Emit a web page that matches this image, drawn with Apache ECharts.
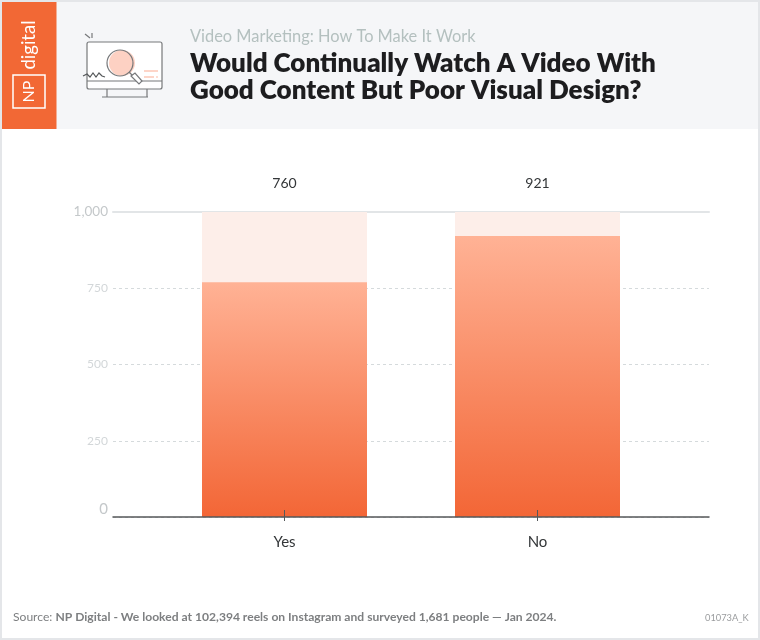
<!DOCTYPE html>
<html><head><meta charset="utf-8">
<style>html,body{margin:0;padding:0;background:#fff}#c{width:760px;height:640px}</style>
<script src="https://cdn.jsdelivr.net/npm/echarts@6/dist/echarts.min.js"></script>
</head><body><div id="c"></div>
<script>
const categories = ['Yes', 'No'];
const barValues = [770, 921];
const printedValues = ['760', '921'];
const yTicks = [0, 250, 500, 750, 1000];
const subtitle = 'Video Marketing: How To Make It Work';
const titleLines = ['Would Continually Watch A Video With', 'Good Content But Poor Visual Design?'];
const sourceLead = 'Source: ';
const sourceBold = 'NP Digital - We looked at 102,394 reels on Instagram and surveyed 1,681 people — Jan 2024.';
const codeText = '01073A_K';

const FF = 'Lato';
const chart = echarts.init(document.getElementById('c'), null, {renderer: 'canvas'});
const ink = {stroke: '#77797b', lineWidth: 1.2, fill: 'none'};
const txt = (x, y, text, size, weight, fill, extra) => ({type: 'text', x, y, z: 20,
  style: Object.assign({text, fontFamily: FF, fontSize: size, fontWeight: weight, fill, textVerticalAlign: 'middle'}, extra || {})});
const ln = (x1, y1, x2, y2, st) => ({type: 'line', z: 20, shape: {x1, y1, x2, y2}, style: Object.assign({}, ink, st || {})});

chart.setOption({
  animation: false,
  backgroundColor: '#fff',
  grid: [
    {left: 113, width: 596, top: 212, height: 305},
    {left: 158, width: 506, top: 212, height: 305}
  ],
  xAxis: [
    {gridIndex: 0, type: 'category', data: [''], position: 'bottom', z: 6,
      axisLine: {lineStyle: {color: '#55585a', width: 1.5}}, axisTick: {show: false}, axisLabel: {show: false}},
    {gridIndex: 0, type: 'category', data: [''], position: 'top',
      axisLine: {lineStyle: {color: '#e2e5e7', width: 2}}, axisTick: {show: false}, axisLabel: {show: false}},
    {gridIndex: 1, type: 'category', data: categories, position: 'bottom', z: 6,
      axisLine: {show: false},
      axisTick: {show: true, alignWithLabel: true, inside: true, length: 7, lineStyle: {color: '#55585a', width: 1}},
      axisLabel: {color: '#333638', fontFamily: FF, fontSize: 15, margin: 18}},
    {gridIndex: 1, type: 'category', data: categories, position: 'bottom', z: 6,
      axisLine: {show: false},
      axisTick: {show: true, alignWithLabel: true, length: 4, lineStyle: {color: '#55585a', width: 1}},
      axisLabel: {show: false}},
    {gridIndex: 1, type: 'category', data: printedValues, position: 'top', offset: 22,
      axisLine: {show: false}, axisTick: {show: false},
      axisLabel: {color: '#333638', fontFamily: FF, fontSize: 14, margin: 0, verticalAlign: 'bottom', lineHeight: 14}}
  ],
  yAxis: [
    {gridIndex: 0, type: 'value', min: yTicks[0], max: yTicks[4], interval: yTicks[1],
      axisLine: {show: false}, axisTick: {show: false},
      splitLine: {show: true, lineStyle: {color: '#d5dadc', type: [3, 3], width: 1}},
      axisLabel: {fontFamily: FF, margin: 5, color: '#c9cdcf', fontSize: 13,
        formatter: v => v === 1000 ? '{big|1,000}' : v === 0 ? '{zero|0}' : '{mid|' + v + '}',
        rich: {big: {fontSize: 13.5, color: '#c4c8ca', fontFamily: FF},
               mid: {fontSize: 12, color: '#d3d7d9', fontFamily: FF},
               zero: {fontSize: 15, color: '#c4c8ca', fontFamily: FF, padding: [0, 0, 16, 0]}}}},
    {gridIndex: 1, type: 'value', min: yTicks[0], max: yTicks[4], interval: yTicks[1], show: false}
  ],
  series: [{
    type: 'bar', xAxisIndex: 2, yAxisIndex: 1, data: barValues, barWidth: 165, z: 3,
    showBackground: true, backgroundStyle: {color: '#fdeee9'},
    itemStyle: {color: new echarts.graphic.LinearGradient(0, 0, 0, 1, [
      {offset: 0, color: '#ffb295'}, {offset: 1, color: '#f36636'}])}
  }],
  graphic: [
    {type: 'rect', z: 10, shape: {x: 0, y: 0, width: 760, height: 129}, style: {fill: '#f5f6f8'}},
    {type: 'rect', z: 11, shape: {x: 2, y: 2, width: 54.5, height: 127}, style: {fill: '#f26835'}},
    {type: 'rect', z: 30, shape: {x: 1, y: 1, width: 758, height: 638}, style: {fill: 'none', stroke: '#e4e6e9', lineWidth: 2}},
    {type: 'rect', z: 20, shape: {x: 13, y: 75, width: 32, height: 33}, style: {fill: 'none', stroke: '#fff', lineWidth: 1.5}},
    {type: 'text', z: 20, x: 29, y: 91.5, rotation: Math.PI / 2, style: {text: 'NP', fontFamily: FF, fontSize: 16, fontWeight: 400, fill: '#fff', textAlign: 'center', textVerticalAlign: 'middle'}},
    {type: 'text', z: 20, x: 29, y: 45, rotation: Math.PI / 2, style: {text: 'digital', fontFamily: FF, fontSize: 18.5, fontWeight: 400, fill: '#fff', textAlign: 'center', textVerticalAlign: 'middle'}},
    // monitor icon
    {type: 'rect', z: 19, shape: {x: 87, y: 42, width: 75, height: 47, r: 2}, style: {fill: '#fff', stroke: '#77797b', lineWidth: 1.2}},
    ln(87, 81, 162, 81),
    ln(107, 89, 107, 97), ln(147, 89, 147, 97), ln(102, 97, 148, 97),
    ln(85, 34, 90, 38), ln(92, 33, 92, 38),
    {type: 'circle', z: 20, shape: {cx: 122, cy: 63, r: 13}, style: {fill: '#fdd1c3'}},
    {type: 'circle', z: 20, shape: {cx: 120, cy: 63, r: 13}, style: ink},
    ln(129, 72, 133, 76),
    {type: 'polygon', z: 20, shape: {points: [[131, 76], [135, 73], [142, 81], [139, 84]]}, style: {fill: '#fff', stroke: '#77797b', lineWidth: 1.2}},
    {type: 'polyline', z: 21, shape: {points: [[83, 76], [87, 74], [90, 77], [93, 73], [96, 77], [99, 73], [102, 76], [105, 77]]}, style: {fill: 'none', stroke: '#55585a', lineWidth: 1.2}},
    ln(144, 71, 158, 71, {stroke: '#fbb9a3'}), ln(144, 77, 154, 77, {stroke: '#fbb9a3'}), ln(156, 77, 158, 77, {stroke: '#fbb9a3'}),
    // header text
    txt(190, 37, subtitle, 16.4, 400, '#b4c0bf'),
    txt(190, 64, titleLines[0], 26, 800, '#1d1d1f'),
    txt(190, 91, titleLines[1], 26, 800, '#1d1d1f'),
    // footer
    {type: 'text', z: 20, x: 13, y: 617, style: {
      text: '{a|' + sourceLead + '}{b|' + sourceBold + '}', fontFamily: FF, textVerticalAlign: 'middle',
      rich: {a: {fontFamily: FF, fontSize: 12.1, fontWeight: 400, fill: '#7d7f81', color: '#7d7f81'},
             b: {fontFamily: FF, fontSize: 12.1, fontWeight: 700, fill: '#7d7f81', color: '#7d7f81'}}}},
    txt(705, 618, codeText, 9.3, 400, '#9a9c9e')
  ]
});
</script></body></html>
